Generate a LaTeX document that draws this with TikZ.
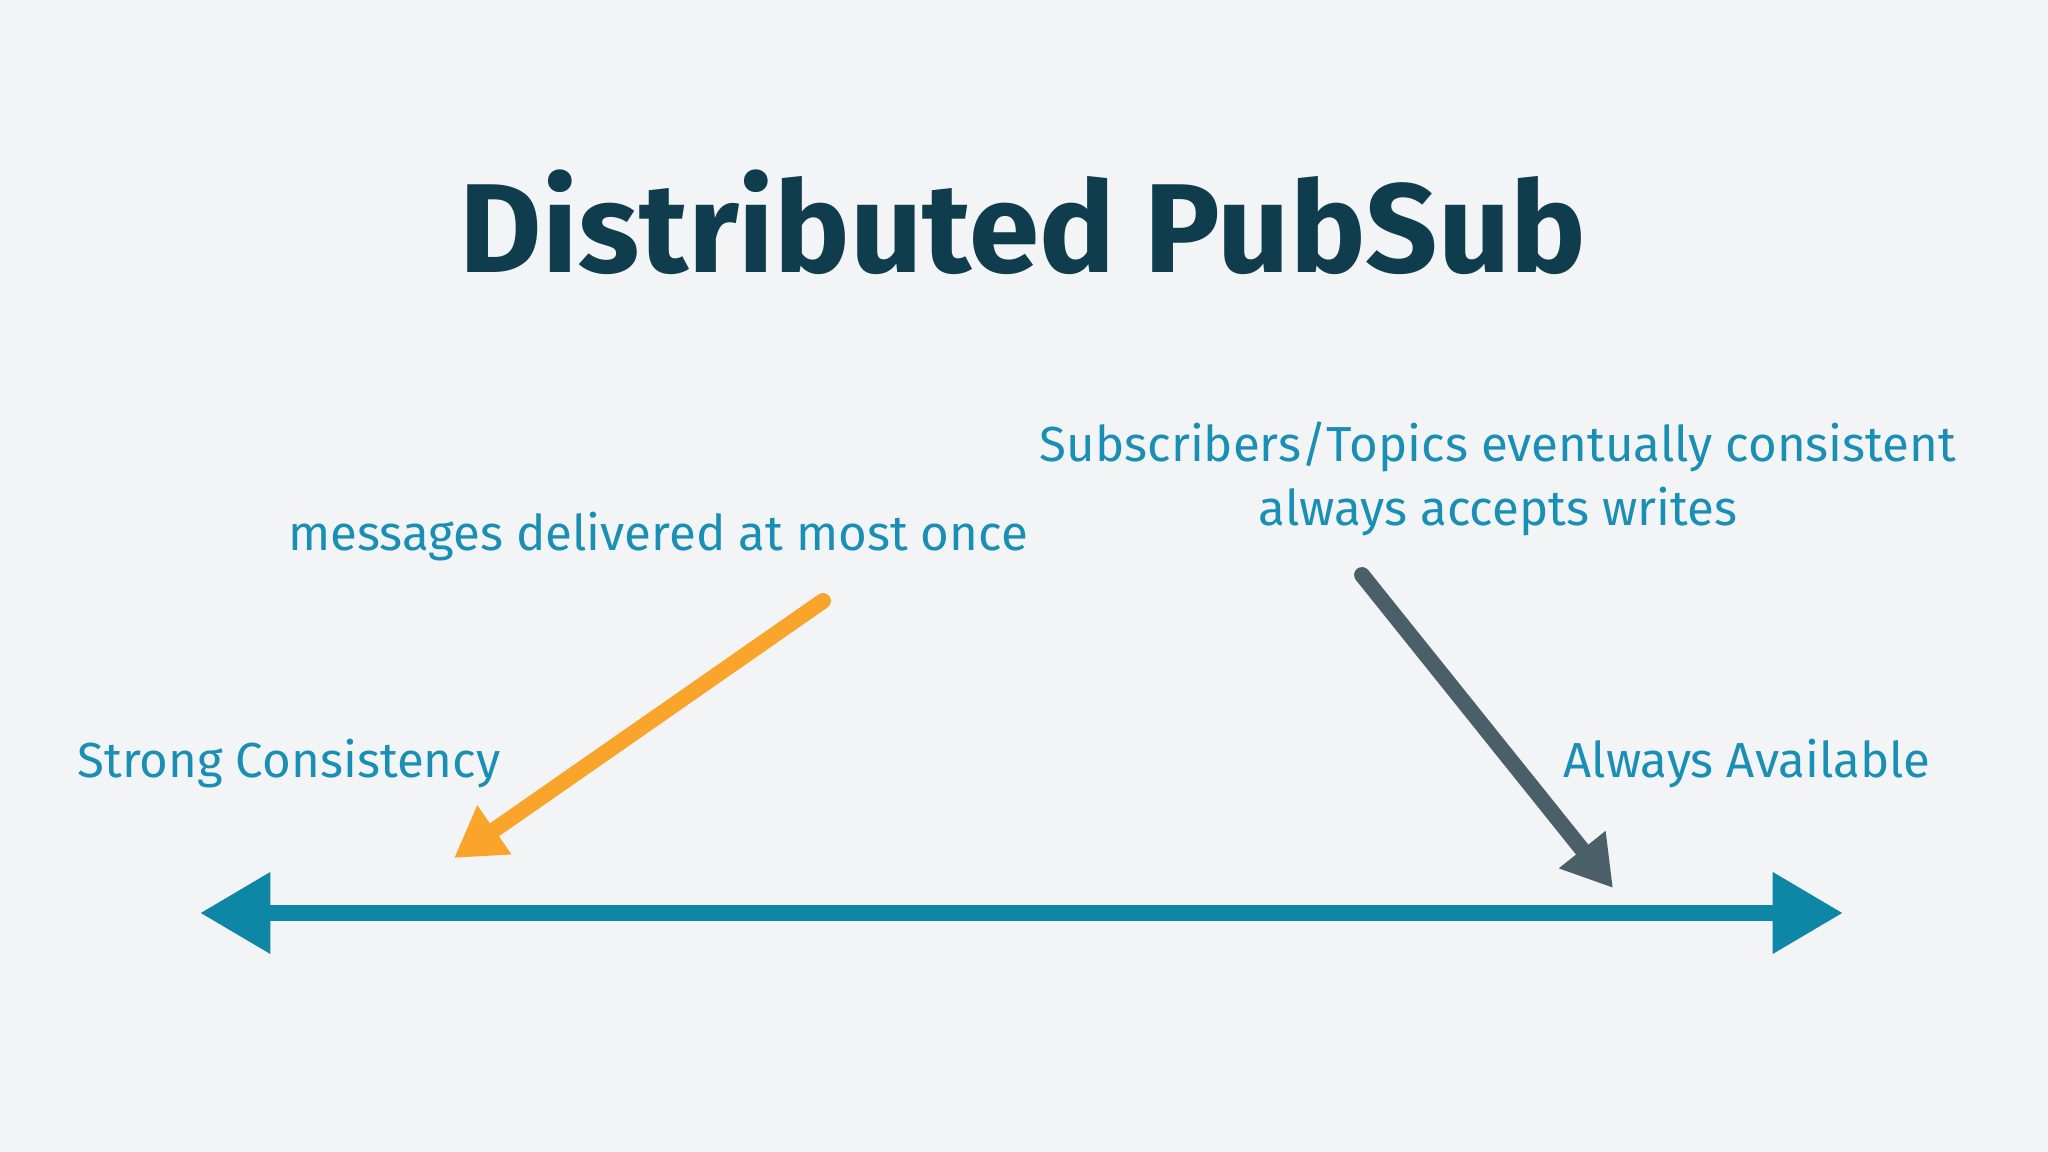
\documentclass[tikz,border=0pt]{standalone}
\usepackage{fontspec}
\setmainfont{Fira Sans}
\usepackage{xcolor}
\definecolor{titlecol}{RGB}{16, 61, 77}
\definecolor{labelcol}{RGB}{26, 143, 181}
\definecolor{axiscol}{RGB}{14, 134, 166}
\definecolor{orangecol}{RGB}{249, 165, 43}
\definecolor{slatecol}{RGB}{74, 95, 104}
\definecolor{background}{RGB}{243, 244, 246}
\usepackage{tikz}
\usetikzlibrary{arrows.meta, positioning}
\tikzset{
  label/.style={text=labelcol, font=\fontsize{14}{18}\selectfont, align=center},
  axis/.style={draw=axiscol, line width=4.5pt, {Triangle[length=20pt,width=22pt]}-{Triangle[length=20pt,width=22pt]}},
  pointer/.style={line width=4.5pt, line cap=round, -{Triangle[length=14pt,width=16pt]}}
}

\begin{document}
\begin{tikzpicture}[x=0.01cm, y=0.01cm]
    \fill[background] (0,0) rectangle (2048,1152);
    \useasboundingbox (0,0) rectangle (2048,1152);

    \node[text=titlecol, font=\fontsize{36}{42}\selectfont\bfseries] (title) at (1023,930) {Distributed PubSub};

    \node[label] (once) at (658,615) {messages delivered at most once};
    \node[label] (eventual) at (1498,673) {Subscribers/Topics eventually consistent\\always accepts writes};
    \node[label] (strong) at (289,388) {Strong Consistency};
    \node[label] (avail) at (1747,388) {Always Available};

    \coordinate (left) at (200,239);
    \coordinate (right) at (1843,239);
    \coordinate (onceStart) at (823,551);
    \coordinate (onceEnd) at (454,294);
    \coordinate (availStart) at (1362,577);
    \coordinate (availEnd) at (1613,264);

    \draw[axis] (left) -- (right);
    \draw[pointer, draw=orangecol, fill=orangecol] (onceStart) -- (onceEnd);
    \draw[pointer, draw=slatecol, fill=slatecol] (availStart) -- (availEnd);
\end{tikzpicture}
\end{document}
